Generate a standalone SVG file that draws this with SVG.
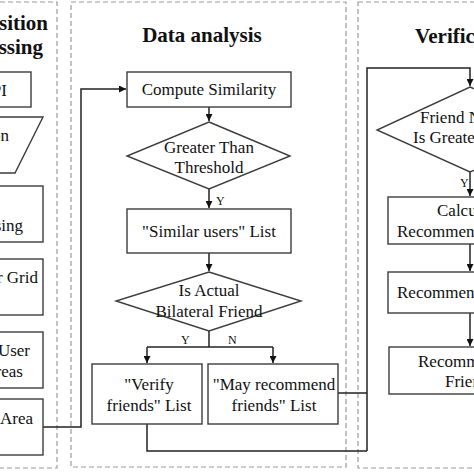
<svg xmlns="http://www.w3.org/2000/svg" width="474" height="474" viewBox="0 0 474 474">
<defs>
<marker id="arr" viewBox="0 0 10 10" refX="10" refY="5" markerWidth="7" markerHeight="7" markerUnits="userSpaceOnUse" orient="auto">
<path d="M0,0 L10,5 L0,10 Z" fill="#111"/>
</marker>
<style>
.panel{fill:none;stroke:#9a9a9a;stroke-width:1.2;stroke-dasharray:5 3}
.box{fill:#fff;stroke:#3c3c3c;stroke-width:1.4}
.t{font-family:"Liberation Serif","Times New Roman",serif;font-size:17px;fill:#111}
.c{text-anchor:middle}
.e{text-anchor:end}
.title{font-family:"Liberation Serif","Times New Roman",serif;font-size:21px;font-weight:bold;fill:#111}
.lbl{font-family:"Liberation Serif","Times New Roman",serif;font-size:12px;fill:#111}
.ln{fill:none;stroke:#222;stroke-width:1.5}
.ar{fill:none;stroke:#222;stroke-width:1.5;marker-end:url(#arr)}
</style>
</defs>
<rect width="474" height="474" fill="#fff"/>
<g id="panels">
<rect class="panel" x="-160" y="2" width="217" height="466"/>
<rect class="panel" x="71" y="2" width="275" height="465"/>
<rect class="panel" x="358" y="2" width="220" height="466"/>
</g>
<g id="titles">
<text class="title e" x="48" y="30">Data Acquisition</text>
<text class="title e" x="43" y="54">and Preprocessing</text>
<text class="title c" x="202" y="42">Data analysis</text>
<text class="title" x="415" y="43">Verification</text>
</g>
<g id="connectors">
<polyline class="ar" points="43,427 81,427 81,89 126,89"/>
<line class="ar" x1="209" y1="107" x2="209" y2="121"/>
<line class="ar" x1="209" y1="189" x2="209" y2="208"/>
<line class="ar" x1="209" y1="253" x2="209" y2="271"/>
<polyline class="ln" points="209,331 209,347"/>
<polyline class="ar" points="147,347 147,363"/>
<polyline class="ar" points="273,347 273,363"/>
<line class="ln" x1="147" y1="347" x2="273" y2="347"/>
<polyline class="ln" points="147,424 147,451 367,451"/>
<polyline class="ln" points="338,393 367,393"/>
<polyline class="ar" points="367,451 367,68 470,68 470,86"/>
<line class="ar" x1="470" y1="172" x2="470" y2="196"/>
<line class="ar" x1="470" y1="244" x2="470" y2="271"/>
<line class="ar" x1="470" y1="313" x2="470" y2="346"/>
<text class="lbl" x="216" y="205">Y</text>
<text class="lbl" x="181" y="344">Y</text>
<text class="lbl" x="228" y="344">N</text>
<text class="lbl" x="460" y="187">Y</text>
</g>
<g id="n-api">
<rect class="box" x="-60" y="72" width="91" height="35"/>
<text class="t e" x="7" y="96">Weibo API</text>
</g>
<g id="n-location">
<polygon class="box" points="-40,117 43,117 15,173 -68,173"/>
<text class="t e" x="9" y="141">Location</text>
</g>
<g id="n-preprocess">
<rect class="box" x="-60" y="186" width="103" height="56"/>
<text class="t e" x="23" y="231">Preprocessing</text>
</g>
<g id="n-grid">
<rect class="box" x="-60" y="259" width="103" height="56"/>
<text class="t e" x="38" y="283">User Grid</text>
</g>
<g id="n-areas">
<rect class="box" x="-60" y="332" width="103" height="56"/>
<text class="t e" x="30" y="356">User</text>
<text class="t e" x="23" y="377">Areas</text>
</g>
<g id="n-area">
<rect class="box" x="-60" y="399" width="103" height="56"/>
<text class="t e" x="33" y="424">Area</text>
</g>
<g id="n-compute">
<rect class="box" x="127" y="72" width="164" height="35"/>
<text class="t c" x="209" y="95">Compute Similarity</text>
</g>
<g id="n-threshold">
<polygon class="box" points="209,122 290,156 209,189 127,156"/>
<text class="t c" x="209" y="153">Greater Than</text>
<text class="t c" x="209" y="173">Threshold</text>
</g>
<g id="n-similar">
<rect class="box" x="127" y="209" width="164" height="44"/>
<text class="t c" x="209" y="237">"Similar users" List</text>
</g>
<g id="n-bilateral">
<polygon class="box" points="209,272 301,301 209,331 116,301"/>
<text class="t c" x="209" y="296">Is Actual</text>
<text class="t c" x="209" y="317">Bilateral Friend</text>
</g>
<g id="n-verify">
<rect class="box" x="92" y="364" width="110" height="60"/>
<text class="t c" x="149" y="390">"Verify</text>
<text class="t c" x="149" y="411">friends" List</text>
</g>
<g id="n-may">
<rect class="box" x="208" y="364" width="130" height="60"/>
<text class="t c" x="274" y="390">"May recommend</text>
<text class="t c" x="274" y="411">friends" List</text>
</g>
<g id="n-friendnum">
<polygon class="box" points="470,87 563,130 470,172 377,130"/>
<text class="t" x="420" y="123">Friend Number</text>
<text class="t" x="413" y="143">Is Greater Than</text>
</g>
<g id="n-calc">
<rect class="box" x="388" y="197" width="164" height="47"/>
<text class="t" x="437" y="216">Calculate</text>
<text class="t" x="397" y="237">Recommendation Index</text>
</g>
<g id="n-reclist">
<rect class="box" x="388" y="272" width="164" height="41"/>
<text class="t" x="397" y="298">Recommendation List</text>
</g>
<g id="n-recfriends">
<rect class="box" x="389" y="347" width="162" height="47"/>
<text class="t" x="418" y="367">Recommend</text>
<text class="t" x="445" y="387">Friends</text>
</g>
</svg>
